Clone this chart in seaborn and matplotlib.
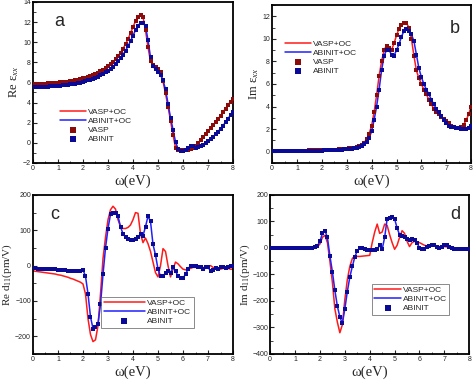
import numpy as np
import seaborn as sns
import matplotlib
matplotlib.use("Agg")
import matplotlib.pyplot as plt
from matplotlib.ticker import MultipleLocator

# photon energy grid (eV)
omega = np.round(np.arange(0, 81) * 0.1, 1)

# panel a: Re eps_xx
re_eps_vasp = [5.85, 5.86, 5.86, 5.87, 5.88, 5.89, 5.90, 5.92, 5.94, 5.96,
               5.98, 6.00, 6.03, 6.06, 6.09, 6.13, 6.17, 6.22, 6.27, 6.33,
               6.40, 6.47, 6.55, 6.64, 6.74, 6.85, 6.97, 7.10, 7.25, 7.42,
               7.60, 7.80, 8.03, 8.30, 8.60, 8.95, 9.35, 9.80, 10.30, 10.90,
               11.50, 12.10, 12.55, 12.75, 12.50, 11.20, 9.50, 8.10, 7.70, 7.50,
               7.30, 7.00, 6.10, 4.90, 3.60, 2.20, 0.80, -0.50, -0.75, -0.75,
               -0.75, -0.72, -0.68, -0.62, -0.50, -0.30, -0.05, 0.25, 0.55, 0.85,
               1.15, 1.45, 1.75, 2.05, 2.35, 2.70, 3.05, 3.40, 3.75, 4.10,
               4.40]
re_eps_abinit = [5.55, 5.55, 5.56, 5.56, 5.57, 5.58, 5.59, 5.60, 5.62, 5.63,
                 5.65, 5.67, 5.70, 5.73, 5.76, 5.80, 5.84, 5.88, 5.93, 5.99,
                 6.05, 6.12, 6.20, 6.28, 6.37, 6.47, 6.58, 6.70, 6.84, 7.00,
                 7.17, 7.36, 7.58, 7.83, 8.10, 8.40, 8.75, 9.15, 9.60, 10.10,
                 10.65, 11.20, 11.65, 11.90, 11.95, 11.60, 10.20, 8.50, 7.60, 7.30,
                 7.05, 6.75, 6.20, 5.30, 3.90, 2.50, 1.30, 0.10, -0.60, -0.80,
                 -0.80, -0.70, -0.50, -0.30, -0.35, -0.50, -0.45, -0.35, -0.20, -0.05,
                 0.15, 0.35, 0.60, 0.85, 1.10, 1.40, 1.70, 2.05, 2.40, 2.75,
                 3.10]

# panel b: Im eps_xx
im_eps_vasp = [0.05, 0.05, 0.05, 0.05, 0.06, 0.06, 0.06, 0.07, 0.07, 0.07,
               0.08, 0.08, 0.08, 0.09, 0.09, 0.10, 0.10, 0.11, 0.11, 0.12,
               0.12, 0.13, 0.14, 0.15, 0.16, 0.17, 0.18, 0.20, 0.22, 0.24,
               0.26, 0.29, 0.32, 0.36, 0.42, 0.50, 0.62, 0.80, 1.10, 1.60,
               2.30, 3.50, 5.00, 6.70, 8.00, 9.00, 9.40, 9.20, 9.00, 9.60,
               10.30, 10.90, 11.20, 11.40, 11.40, 11.00, 10.00, 8.50, 7.20, 6.50,
               6.00, 5.50, 5.10, 4.60, 4.20, 3.80, 3.50, 3.30, 3.10, 2.90,
               2.70, 2.50, 2.30, 2.20, 2.10, 2.10, 2.20, 2.40, 2.80, 3.30,
               4.00]
im_eps_abinit = [0.02, 0.02, 0.02, 0.02, 0.03, 0.03, 0.03, 0.04, 0.04, 0.04,
                 0.05, 0.05, 0.05, 0.06, 0.06, 0.07, 0.07, 0.08, 0.08, 0.09,
                 0.09, 0.10, 0.11, 0.12, 0.13, 0.14, 0.15, 0.16, 0.18, 0.20,
                 0.22, 0.24, 0.27, 0.30, 0.35, 0.42, 0.52, 0.65, 0.85, 1.20,
                 1.80, 2.80, 4.00, 5.50, 7.20, 8.50, 9.00, 9.00, 8.60, 8.50,
                 9.00, 9.50, 10.20, 10.70, 10.90, 10.70, 10.40, 9.80, 8.60, 7.40,
                 6.60, 6.00, 5.50, 5.10, 4.60, 4.20, 3.80, 3.50, 3.20, 2.80,
                 2.50, 2.30, 2.20, 2.15, 2.10, 2.05, 2.00, 2.00, 2.00, 2.10,
                 2.30]

# panel c: Re d11 (pm/V)
re_d_vasp = [-15, -16, -17, -18, -19, -20, -21, -22, -23, -24,
             -26, -27, -29, -31, -33, -36, -38, -41, -44, -47,
             -52, -80, -150, -195, -215, -210, -170, -80, 20, 80,
             130, 158, 168, 160, 130, 110, 105, 105, 108, 115,
             130, 150, 148, 90, 65, 78, 62, 40, 10, -20,
             -32, 0, 48, 40, 0, -32, -10, 10, 5, -3,
             -10, -12, -10, -8, -5, -5, -3, -2, -5, -8,
             -2, 0, -5, -8, -10, -10, -8, -6, -8, -10,
             -10]
re_d_abinit = [-8, -8, -9, -9, -9, -10, -10, -10, -11, -11,
               -12, -12, -13, -13, -14, -14, -15, -15, -15, -14,
               -12, -30, -80, -145, -178, -175, -165, -110, -25, 50,
               105, 145, 148, 150, 140, 110, 90, 80, 75, 72,
               72, 75, 80, 90, 85, 110, 140, 125, 60, 30,
               -10, -30, -30, -20, -15, -20, -5, -15, -30, -35,
               -35, -25, -10, 0, -2, 0, -3, -5, -10, -5,
               -5, -15, -12, -8, -10, -5, -5, -8, -3, -2,
               0]

# panel d: Im d11 (pm/V)
im_d_vasp = [0, 0, 0, 0, 0, 0, 0, 0, 0, 0,
             0, 0, 0, 0, 0, 0, 0, 1, 2, 5,
             15, 40, 48, 20, -50, -130, -230, -280, -320, -290,
             -195, -120, -70, -40, -30, -32, -32, -31, -30, -29,
             -28, 20, 60, 90, 55, 60, 90, 85, 50, 20,
             -5, 10, 40, 65, 55, 25, 5, 20, 25, 22,
             20, 15, 10, 8, 8, 8, 7, 6, 5, 5,
             5, 4, 3, 2, 1, 0, 0, 0, 0, 0,
             0]
im_d_abinit = [0, 0, 0, 0, 0, 0, 0, 0, 0, 0,
               0, 0, 0, 0, 0, 0, 0, 1, 3, 8,
               25, 55, 65, 40, -30, -90, -160, -220, -260, -285,
               -230, -165, -110, -70, -35, -10, 0, -2, -5, -6,
               -8, -7, -6, -5, 10, -5, 40, 110, 112, 115,
               110, 75, 50, 45, 40, 35, 30, 35, 30, 20,
               0, -5, -5, 5, 8, 10, 12, 5, 0, 5,
               10, 12, 5, 0, -3, -5, -5, -5, -5, -5,
               -5]

RED = "#ff1a1a"
DARKRED = "#8b0a0a"
BLUE = "#1f1fff"
NAVY = "#0a0a96"

sns.set_style("ticks")
plt.rcParams['font.family'] = ['Liberation Sans', 'DejaVu Sans']
plt.rcParams['mathtext.fontset'] = 'custom'
plt.rcParams['mathtext.rm'] = 'Liberation Serif'
plt.rcParams['mathtext.it'] = 'Liberation Serif:italic'

fig = plt.figure(figsize=(4.74, 3.86), dpi=100)
fig.patch.set_facecolor("white")

ax_a = fig.add_axes([0.0696, 0.578, 0.422, 0.417])
ax_b = fig.add_axes([0.574, 0.578, 0.420, 0.409])
ax_c = fig.add_axes([0.0696, 0.083, 0.422, 0.412])
ax_d = fig.add_axes([0.570, 0.083, 0.420, 0.412])

SERIF = ['Liberation Serif', 'DejaVu Serif']


def style_axes(ax, ylim, ymaj, ymin, ylabel, lab_x, lab_size):
    ax.set_xlim(0, 8)
    ax.set_ylim(*ylim)
    ax.xaxis.set_major_locator(MultipleLocator(1))
    ax.xaxis.set_minor_locator(MultipleLocator(0.5))
    ax.yaxis.set_major_locator(MultipleLocator(ymaj))
    ax.yaxis.set_minor_locator(MultipleLocator(ymin))
    ax.tick_params(which="major", direction="in", length=3, width=0.8,
                   labelsize=5, pad=1.5)
    ax.tick_params(which="minor", direction="in", length=1.8, width=0.6)
    for s in ax.spines.values():
        s.set_linewidth(1.3)
        s.set_color("black")
    ax.set_xlabel("ω(eV)", fontsize=10.5, labelpad=2, family=SERIF)
    ax.set_ylabel(ylabel, fontsize=lab_size, family=SERIF, va="center")
    ax.yaxis.set_label_coords(lab_x, 0.5)


def draw_pair(ax, y_vasp, y_abinit, vasp_markers):
    sns.lineplot(x=omega, y=y_vasp, ax=ax, color=RED, lw=1.1, label="VASP+OC")
    sns.lineplot(x=omega, y=y_abinit, ax=ax, color=BLUE, lw=1.1, label="ABINIT+OC")
    if vasp_markers:
        sns.scatterplot(x=omega, y=y_vasp, ax=ax, color=DARKRED, marker="s",
                        s=6, linewidth=0, label="VASP", zorder=3)
    sns.scatterplot(x=omega, y=y_abinit, ax=ax, color=NAVY, marker="s",
                    s=6, linewidth=0, label="ABINIT", zorder=3)


draw_pair(ax_a, re_eps_vasp, re_eps_abinit, True)
draw_pair(ax_b, im_eps_vasp, im_eps_abinit, True)
draw_pair(ax_c, re_d_vasp, re_d_abinit, False)
draw_pair(ax_d, im_d_vasp, im_d_abinit, False)

style_axes(ax_a, (-2, 14), 2, 1, r"Re ε$_{xx}$", -0.095, 9)
style_axes(ax_b, (-1, 13), 2, 1, r"Im ε$_{xx}$", -0.09, 9)
style_axes(ax_c, (-250, 200), 100, 50, r"Re d$_{\mathrm{11}}$(pm/V)", -0.13, 8)
style_axes(ax_d, (-400, 200), 100, 50, r"Im d$_{\mathrm{11}}$(pm/V)", -0.125, 8)

leg_kw = dict(fontsize=6, handletextpad=0.2, labelspacing=0.15,
              borderpad=0.3, markerscale=1.5)
ax_a.legend(loc="lower left", bbox_to_anchor=(0.1, 0.08), frameon=False,
            handlelength=3.2, **leg_kw)
ax_b.legend(loc="upper left", bbox_to_anchor=(0.03, 0.82), frameon=False,
            handlelength=3.2, **leg_kw)
for ax, anchor, hl in [(ax_c, (0.32, 0.14), 5.0), (ax_d, (0.49, 0.22), 3.2)]:
    leg = ax.legend(loc="lower left", bbox_to_anchor=anchor, frameon=True,
                    fancybox=False, handlelength=hl, **leg_kw)
    leg.get_frame().set_edgecolor("#555555")
    leg.get_frame().set_linewidth(0.6)

for ax, lab, pos in [(ax_a, "a", (0.13, 0.88)), (ax_b, "b", (0.92, 0.85)),
                     (ax_c, "c", (0.11, 0.88)), (ax_d, "d", (0.93, 0.88))]:
    ax.text(pos[0], pos[1], lab, transform=ax.transAxes, fontsize=13,
            ha="center", va="center")

fig.savefig("out.png", dpi=100, facecolor="white")
